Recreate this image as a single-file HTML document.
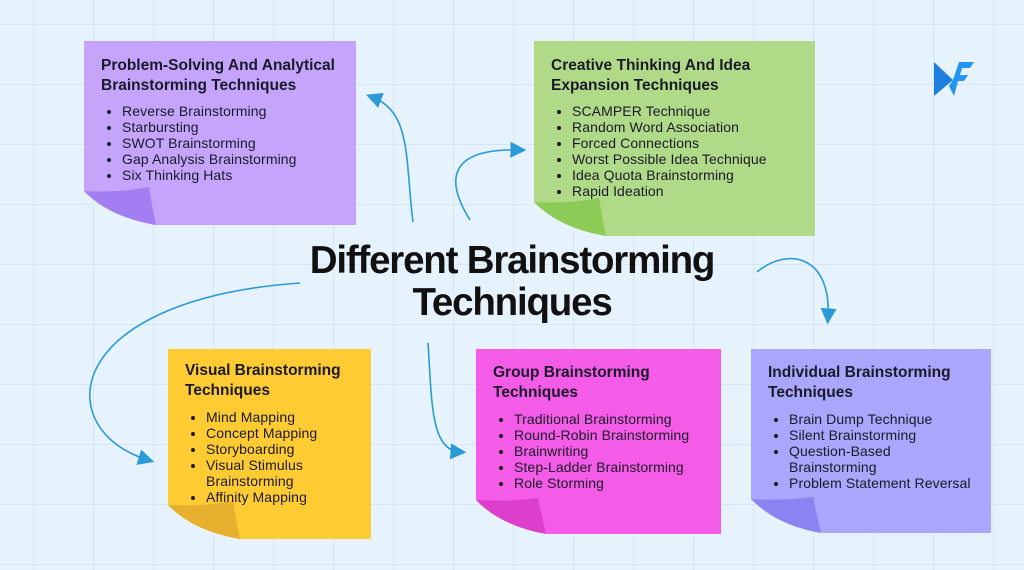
<!DOCTYPE html>
<html><head><meta charset="utf-8"><style>
body{margin:0;width:1024px;height:570px;overflow:hidden;font-family:"Liberation Sans",sans-serif;
background-color:#e6f3fc;
background-image:linear-gradient(#d6e7f3 1px,transparent 1px),linear-gradient(90deg,#d6e7f3 1px,transparent 1px);
background-size:60px 60px;background-position:-27px 24px;position:relative}
.c{position:absolute}
.c svg{position:absolute;left:0;top:0}
.t{position:absolute;left:17px;top:15px;font-weight:bold;font-size:15.5px;line-height:20px;color:#1a1a2a;white-space:nowrap}
.c ul{position:absolute;left:20px;margin:0;padding:0 0 0 18px;font-size:14px;line-height:16px;color:#1a1a2a;letter-spacing:0.1px}
h1{position:absolute;left:0;width:1024px;top:240px;margin:0;text-align:center;font-size:38.5px;line-height:42px;font-weight:bold;color:#111;letter-spacing:-1.2px}
</style></head><body>
<svg class="c" style="left:0;top:0" width="1024" height="570">
<defs><marker id="a" markerWidth="10" markerHeight="10" refX="6" refY="5" orient="auto"><path d="M0,0 L10,5 L0,10 Z" fill="#2a9ad8"/></marker></defs>
<g fill="none" stroke="#2a9ad8" stroke-width="1.6" marker-end="url(#a)">
<path d="M413,222 C405,160 412,112 372,97"/>
<path d="M470,220 C445,180 448,148 520,150"/>
<path d="M757,272 C790,245 832,258 828,318"/>
<path d="M300,283 C60,300 50,430 148,460"/>
<path d="M428,343 C432,400 430,450 460,452"/>
</g>
<polygon points="934,62 953,80 934,96" fill="#1e7fe0"/>
<polygon points="953,80 959,62 974,62 970,68 962,68 960,75 968,75 964,81 958,81 954,96 949,86" fill="#2196f3"/>
</svg>

<div class="c" style="left:84px;top:41px;width:272px;height:184px">
<svg width="272" height="184"><path d="M0,0 H272 V184 H72 Q25 176 0 150 Z" fill="#c4a5fb"/><path d="M0,150 Q35 152 65 146 Q68 165 72 184 Q25 176 0 150Z" fill="#a37ef3"/></svg>
<div class="t">Problem-Solving And Analytical<br>Brainstorming Techniques</div>
<ul style="top:62px"><li>Reverse Brainstorming</li><li>Starbursting</li><li>SWOT Brainstorming</li><li>Gap Analysis Brainstorming</li><li>Six Thinking Hats</li></ul></div>

<div class="c" style="left:534px;top:41px;width:281px;height:195px">
<svg width="281" height="195"><path d="M0,0 H281 V195 H72 Q25 187 0 161 Z" fill="#b0da88"/><path d="M0,161 Q35 163 65 157 Q68 176 72 195 Q25 187 0 161Z" fill="#8ccb55"/></svg>
<div class="t">Creative Thinking And Idea<br>Expansion Techniques</div>
<ul style="top:62px"><li>SCAMPER Technique</li><li>Random Word Association</li><li>Forced Connections</li><li>Worst Possible Idea Technique</li><li>Idea Quota Brainstorming</li><li>Rapid Ideation</li></ul></div>

<div class="c" style="left:168px;top:349px;width:203px;height:190px">
<svg width="203" height="190"><path d="M0,0 H203 V190 H72 Q25 182 0 156 Z" fill="#ffcb33"/><path d="M0,156 Q35 158 65 152 Q68 171 72 190 Q25 182 0 156Z" fill="#e7b02e"/></svg>
<div class="t" style="top:12px">Visual Brainstorming<br>Techniques</div>
<ul style="top:60px;width:150px"><li>Mind Mapping</li><li>Concept Mapping</li><li>Storyboarding</li><li>Visual Stimulus Brainstorming</li><li>Affinity Mapping</li></ul></div>

<div class="c" style="left:476px;top:349px;width:245px;height:185px">
<svg width="245" height="185"><path d="M0,0 H245 V185 H72 Q25 177 0 151 Z" fill="#f45be6"/><path d="M0,151 Q35 153 62 149 Q66 168 70 185 Q25 177 0 151Z" fill="#db3fcc"/></svg>
<div class="t" style="top:14px">Group Brainstorming<br>Techniques</div>
<ul style="top:62px"><li>Traditional Brainstorming</li><li>Round-Robin Brainstorming</li><li>Brainwriting</li><li>Step-Ladder Brainstorming</li><li>Role Storming</li></ul></div>

<div class="c" style="left:751px;top:349px;width:240px;height:184px">
<svg width="240" height="184"><path d="M0,0 H240 V184 H72 Q25 176 0 150 Z" fill="#a9a6fb"/><path d="M0,150 Q35 152 62 148 Q66 167 70 184 Q25 176 0 150Z" fill="#8b83f2"/></svg>
<div class="t" style="top:14px">Individual Brainstorming<br>Techniques</div>
<ul style="top:62px;width:188px"><li>Brain Dump Technique</li><li>Silent Brainstorming</li><li>Question-Based Brainstorming</li><li>Problem Statement Reversal</li></ul></div>

<h1>Different Brainstorming<br>Techniques</h1>
</body></html>
